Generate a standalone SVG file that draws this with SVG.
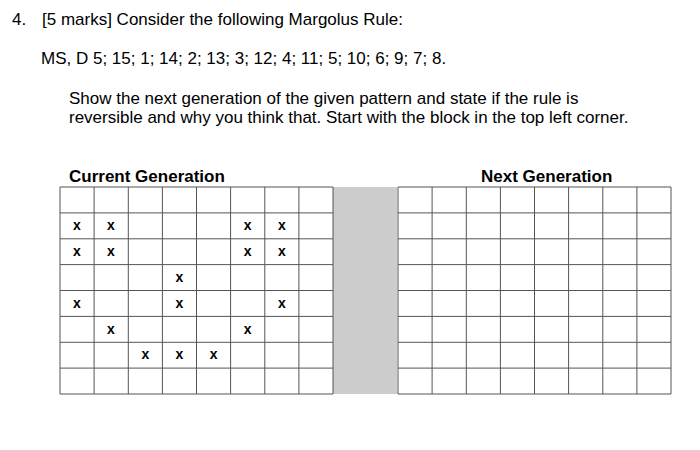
<svg xmlns="http://www.w3.org/2000/svg" width="700" height="450" viewBox="0 0 700 450">
<style>
text{font-family:"Liberation Sans",Arial,sans-serif;fill:#000}
.t{font-size:17px}
.h{font-size:17px;font-weight:bold}
.x{font-size:14px;font-weight:bold;text-anchor:middle}
.g{stroke:#555;stroke-width:1;fill:none}
</style>
<rect width="700" height="450" fill="#fff"/>
<text class="t" x="12" y="25">4.</text>
<text class="t" x="42" y="25">[5 marks] Consider the following Margolus Rule:</text>
<text class="t" x="41" y="64">MS, D 5; 15; 1; 14; 2; 13; 3; 12; 4; 11; 5; 10; 6; 9; 7; 8.</text>
<text class="t" x="69" y="104">Show the next generation of the given pattern and state if the rule is</text>
<text class="t" x="69" y="123">reversible and why you think that. Start with the block in the top left corner.</text>
<text class="h" x="69" y="182">Current Generation</text>
<text class="h" x="481" y="182">Next Generation</text>
<rect x="333" y="187" width="64" height="207" fill="#cccccc"/>
<g id="current">
<path class="g" d="M60 187V394M94.1 187V394M128.3 187V394M162.4 187V394M196.5 187V394M230.6 187V394M264.8 187V394M298.9 187V394M333 187V394M60 187H333M60 212.9H333M60 238.8H333M60 264.6H333M60 290.5H333M60 316.4H333M60 342.3H333M60 368.1H333M60 394H333"/>
<g>
<text class="x" x="77" y="230">x</text><text class="x" x="111" y="230">x</text><text class="x" x="247.7" y="230">x</text><text class="x" x="281.8" y="230">x</text>
<text class="x" x="77" y="256">x</text><text class="x" x="111" y="256">x</text><text class="x" x="247.7" y="256">x</text><text class="x" x="281.8" y="256">x</text>
<text class="x" x="179.5" y="282">x</text>
<text class="x" x="77" y="308">x</text><text class="x" x="179.5" y="308">x</text><text class="x" x="281.8" y="308">x</text>
<text class="x" x="111" y="334">x</text><text class="x" x="247.7" y="334">x</text>
<text class="x" x="145.3" y="359">x</text><text class="x" x="179.5" y="359">x</text><text class="x" x="213.6" y="359">x</text>
</g>
</g>
<g id="next">
<path class="g" d="M398 187V394M432.1 187V394M466.3 187V394M500.4 187V394M534.5 187V394M568.6 187V394M602.8 187V394M636.9 187V394M671 187V394M398 187H671M398 212.9H671M398 238.8H671M398 264.6H671M398 290.5H671M398 316.4H671M398 342.3H671M398 368.1H671M398 394H671"/>
</g>
</svg>
